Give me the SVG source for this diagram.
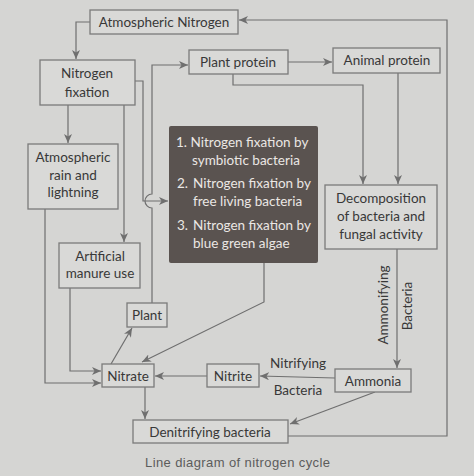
<svg xmlns="http://www.w3.org/2000/svg" width="474" height="476" viewBox="0 0 474 476">
<defs>
<marker id="ah" markerUnits="userSpaceOnUse" markerWidth="10" markerHeight="8" refX="9" refY="4" orient="auto">
<path d="M0,0 L9,4 L0,8 L2.5,4 z" fill="#6f6f6f"/>
</marker>
</defs>
<style>
.bx{fill:#d9d9d7;stroke:#7a7a7a;stroke-width:1.3}
.t{font-family:Lato,"Liberation Sans",sans-serif;font-size:13.5px;fill:#383838;text-anchor:middle}
.d{font-family:Lato,"Liberation Sans",sans-serif;font-size:13.5px;fill:#ebe7e4}
.c{fill:none;stroke:#6f6f6f;stroke-width:1.2}
.a{marker-end:url(#ah)}
</style>
<rect width="474" height="476" fill="#d5d5d3"/>
<g id="connectors">
<path class="c a" d="M90,22 H76 V59"/>
<path class="c a" d="M68,105 V143"/>
<path class="c a" d="M124,105 V242"/>
<path class="c a" d="M135,81 H143 V201 H168"/>
<path class="c a" d="M152,303 V208 A7 7 0 0 1 152 194 V65 H188"/>
<path class="c a" d="M288,62 H332"/>
<path class="c a" d="M233,74 V85 H363 V184"/>
<path class="c a" d="M398,73 V184"/>
<path class="c a" d="M397,249 V368"/>
<path class="c a" d="M335,378 L260,376"/>
<path class="c a" d="M375,392 L290,424"/>
<path class="c a" d="M207,376 H155"/>
<path class="c a" d="M145,387 V419"/>
<path class="c a" d="M111,364 L132,328"/>
<path class="c a" d="M264,263 V302 L142,362"/>
<path class="c a" d="M45,209 V383 H101"/>
<path class="c a" d="M70,288 V371 H101"/>
<path class="c a" d="M288,436 H447 V20 H239"/>
<text class="t" x="298" y="368">Nitrifying</text>
<text class="t" x="298" y="395">Bacteria</text>
<text class="t" transform="translate(388,305) rotate(-90)">Ammonifying</text>
<text class="t" transform="translate(412,306) rotate(-90)">Bacteria</text>
</g>
<g id="atm"><rect class="bx" x="90" y="10" width="148" height="24"/><text class="t" x="164" y="27">Atmospheric Nitrogen</text></g>
<g id="nfix"><rect class="bx" x="40" y="60" width="95" height="45"/><text class="t" x="87" y="78">Nitrogen</text><text class="t" x="87" y="97">fixation</text></g>
<g id="rain"><rect class="bx" x="28" y="144" width="90" height="65"/><text class="t" x="73" y="162">Atmospheric</text><text class="t" x="73" y="180">rain and</text><text class="t" x="73" y="197">lightning</text></g>
<g id="manure"><rect class="bx" x="59" y="243" width="81" height="45"/><text class="t" x="100" y="261">Artificial</text><text class="t" x="100" y="278">manure use</text></g>
<g id="plantprotein"><rect class="bx" x="189" y="50" width="99" height="24"/><text class="t" x="238" y="67">Plant protein</text></g>
<g id="animalprotein"><rect class="bx" x="333" y="48" width="107" height="25"/><text class="t" x="387" y="65">Animal protein</text></g>
<g id="fixers"><rect x="169" y="126" width="149" height="137" fill="#5a5350" rx="2"/>
<text class="d" x="176" y="147">1. Nitrogen fixation by</text>
<text class="d" x="192" y="165">symbiotic bacteria</text>
<text class="d" x="177" y="188">2.</text><text class="d" x="193" y="188">Nitrogen fixation by</text>
<text class="d" x="193" y="206">free living bacteria</text>
<text class="d" x="177" y="230">3.</text><text class="d" x="193" y="230">Nitrogen fixation by</text>
<text class="d" x="193" y="248">blue green algae</text></g>
<g id="decomp"><rect class="bx" x="325" y="185" width="112" height="64"/><text class="t" x="381" y="203">Decomposition</text><text class="t" x="381" y="221">of bacteria and</text><text class="t" x="381" y="239">fungal activity</text></g>
<g id="plant"><rect class="bx" x="127" y="303" width="40" height="24"/><text class="t" x="147" y="320">Plant</text></g>
<g id="nitrate"><rect class="bx" x="102" y="364" width="52" height="23"/><text class="t" x="128" y="381">Nitrate</text></g>
<g id="nitrite"><rect class="bx" x="207" y="364" width="52" height="23"/><text class="t" x="233" y="381">Nitrite</text></g>
<g id="ammonia"><rect class="bx" x="335" y="369" width="76" height="23"/><text class="t" x="373" y="386">Ammonia</text></g>
<g id="denit"><rect class="bx" x="133" y="420" width="155" height="23"/><text class="t" x="210" y="437">Denitrifying bacteria</text></g>
<text x="145" y="467" font-family="'Liberation Sans',Arial,sans-serif" font-size="13" letter-spacing="0.4" fill="#5c5c5c">Line diagram of nitrogen cycle</text>
</svg>
